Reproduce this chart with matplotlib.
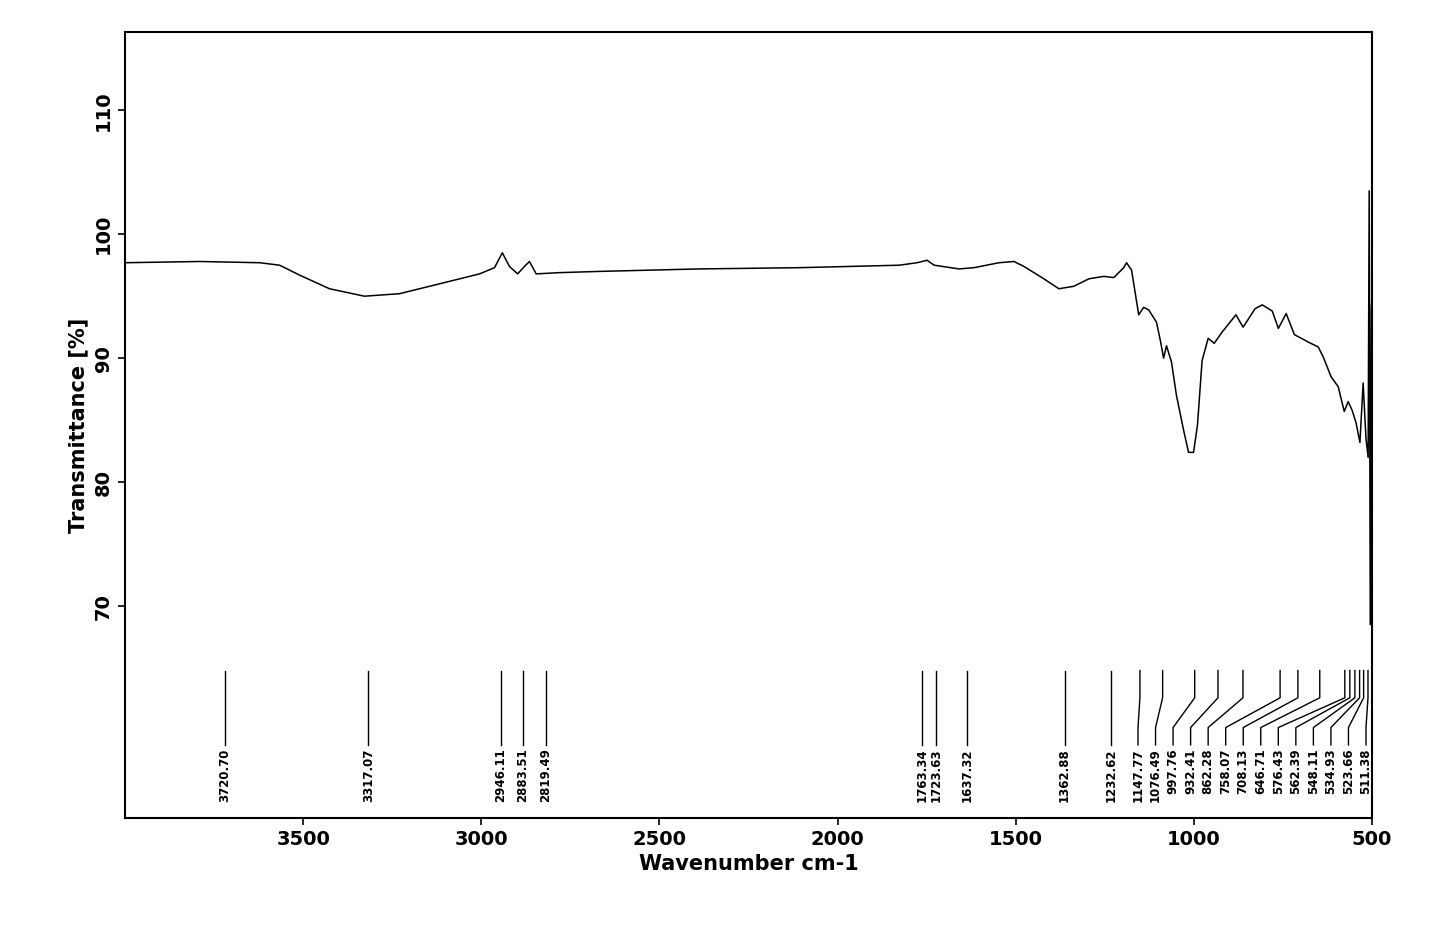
import matplotlib
matplotlib.use("Agg")
import matplotlib.pyplot as plt
import numpy as np

wavenumber = [4000, 3790, 3622, 3566, 3510, 3426, 3328, 3230, 3117, 3005, 2963, 2941, 2921, 2898, 2879, 2865, 2846,
              2781, 2669, 2388, 2108, 1827, 1777, 1749, 1729, 1659, 1617, 1547, 1505, 1477, 1421, 1379, 1337, 1295,
              1253, 1225, 1197, 1189, 1175, 1166, 1155, 1141, 1127, 1105, 1094, 1085, 1077, 1063, 1049, 1029, 1015,
              1001, 990, 977, 960, 943, 921, 882, 862, 828, 808, 780, 763, 741, 718, 679, 651, 637, 615, 595, 578,
              567, 556, 545, 534, 525, 517, 511, 508, 505, 502, 500]
transmittance = [97.7, 97.8, 97.7, 97.5, 96.7, 95.6, 95.0, 95.2, 96.0, 96.8, 97.3, 98.5, 97.4, 96.8, 97.4, 97.8,
                 96.8, 96.9, 97.0, 97.2, 97.3, 97.5, 97.7, 97.9, 97.5, 97.2, 97.3, 97.7, 97.8, 97.4, 96.4, 95.6,
                 95.8, 96.4, 96.6, 96.5, 97.3, 97.7, 97.1, 95.5, 93.5, 94.1, 93.9, 92.9, 91.4, 90.0, 91.0, 89.7,
                 87.0, 84.2, 82.4, 82.4, 84.6, 89.8, 91.6, 91.2, 92.1, 93.5, 92.5, 94.0, 94.3, 93.8, 92.4, 93.6,
                 91.9, 91.3, 90.9, 90.1, 88.5, 87.7, 85.7, 86.5, 85.8, 84.8, 83.2, 88.0, 83.5, 82.0, 103.5, 68.5, 94.0, 95.0]

peak_values = [3720.70, 3317.07, 2946.11, 2883.51, 2819.49, 1763.34, 1723.63, 1637.32, 1362.88, 1232.62,
               1151.47, 1087.77, 997.76, 932.41, 862.28, 758.07, 708.13, 646.71, 576.43, 562.39, 548.11,
               534.93, 523.66, 511.38]
label_texts = ["3720.70", "3317.07", "2946.11", "2883.51", "2819.49", "1763.34", "1723.63", "1637.32",
               "1362.88", "1232.62", "1147.77", "1076.49", "997.76", "932.41", "862.28", "758.07", "708.13",
               "646.71", "576.43", "562.39", "548.11", "534.93", "523.66", "511.38"]

fig = plt.figure(figsize=(14.37, 9.30), dpi=100)
ax = fig.add_axes([0.087, 0.1204, 0.8678, 0.845])
ax.plot(wavenumber, transmittance, color="black", lw=1.1)
ax.set_xlim(4000, 500)
ax.set_ylim(52.9, 116.3)
ax.set_xticks([3500, 3000, 2500, 2000, 1500, 1000, 500])
ax.set_yticks([70, 80, 90, 100, 110])
for lab in ax.get_xticklabels():
    lab.set_fontweight("bold"); lab.set_fontsize(14)
for lab in ax.get_yticklabels():
    lab.set_fontweight("bold"); lab.set_fontsize(14); lab.set_rotation(90); lab.set_va("center")
ax.tick_params(direction="out", length=5, width=1.2)
for s in ax.spines.values():
    s.set_linewidth(1.5)
ax.set_xlabel("Wavenumber cm-1", fontsize=15, fontweight="bold")
ax.set_ylabel("Transmittance [%]", fontsize=15, fontweight="bold")

# label positions: left peaks at own position, crowded right ones spread
n_right = 14
label_pos = list(peak_values[:10])
right_px = np.linspace(1138, 1366, n_right)
label_pos += [4000 - (p - 125) / 0.3563 for p in right_px]
label_pos[5] = 1763.34; label_pos[6] = 1723.63
for pk, lp, txt in zip(peak_values, label_pos, label_texts):
    ax.plot([pk, pk, lp, lp], [64.8, 62.6, 60.2, 58.8], color="black", lw=1)
    ax.text(lp, 58.5, txt, rotation=90, va="top", ha="center", fontsize=8.5, fontweight="bold")

fig.savefig("out.png", dpi=100)
